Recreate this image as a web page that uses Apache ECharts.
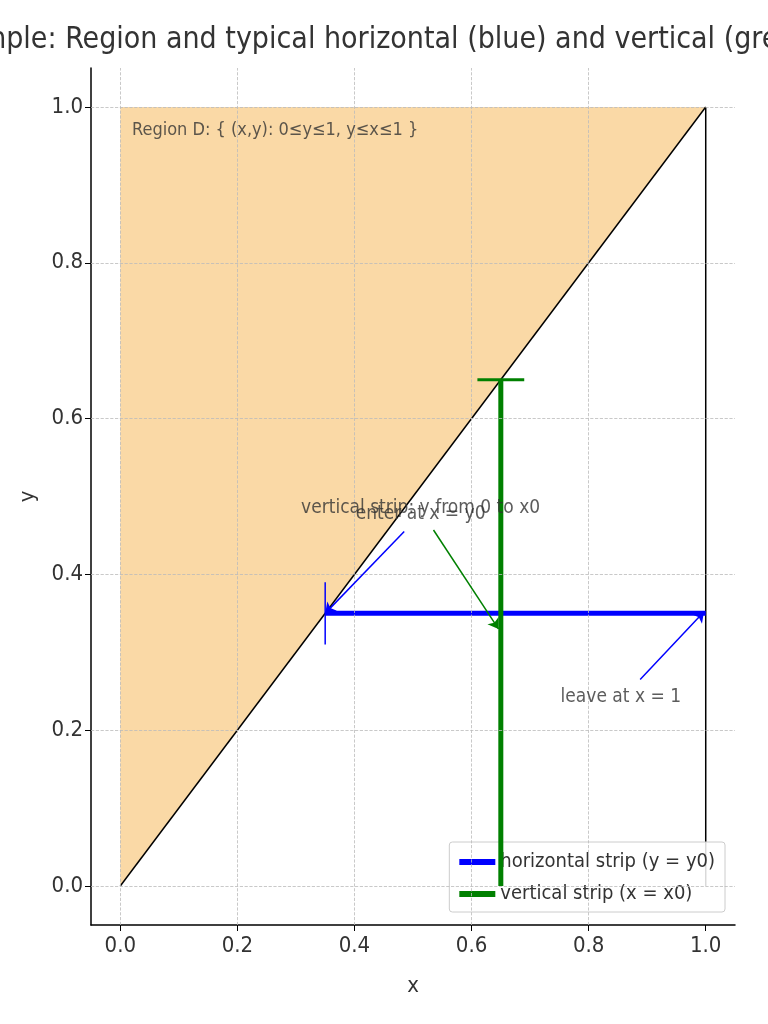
<!DOCTYPE html>
<html><head><meta charset="utf-8">
<script src="https://cdn.jsdelivr.net/npm/echarts@6/dist/echarts.min.js"></script>
<style>html,body{margin:0;padding:0;background:#fff}#main{width:768px;height:1024px}</style>
</head><body><div id="main"></div>
<script>
var ticks = [0, 0.2, 0.4, 0.6, 0.8, 1.0];
var region = [[0, 0], [0, 1], [1, 1]];
var diagonal = [[0, 0], [1, 1]];
var rightEdge = [[1, 0], [1, 1]];
var y0 = 0.35, x0 = 0.65;
var hStrip = [[0.35, y0], [1, y0]];
var hTick = [[0.35, 0.31], [0.35, 0.39]];
var vStrip = [[x0, 0], [x0, 0.65]];
var vTick = [[0.61, 0.65], [0.69, 0.65]];
var font = 'DejaVu Sans Condensed, Liberation Sans Narrow, sans-serif';

var chart = echarts.init(document.getElementById('main'));

function gridLines() {
    var d = [];
    ticks.forEach(function (t) {
        if (t !== 1.0) d.push([{ coord: [t, -0.05] }, { coord: [t, 1.05] }]);
        d.push([{ coord: [-0.05, t] }, { coord: [1.05, t] }]);
    });
    return d;
}
function arrow(from, to, color) {
    return [{ coord: from, lineStyle: { color: color, width: 1.5, type: 'solid' } }, { coord: to }];
}

var option = {
    animation: false,
    title: {
        text: 'Example: Region and typical horizontal (blue) and vertical (green) strips',
        left: 413, top: 20, textAlign: 'center',
        textStyle: { fontFamily: font, fontSize: 30, fontWeight: 'normal', color: '#333' }
    },
    grid: { left: 91, right: 33, top: 68, bottom: 99 },
    xAxis: {
        type: 'value', min: -0.05, max: 1.05, name: 'x', nameLocation: 'middle', nameGap: 50,
        nameTextStyle: { fontFamily: font, fontSize: 22, color: '#333' },
        axisLine: { onZero: false, lineStyle: { color: '#000', width: 1.5 } },
        axisTick: { customValues: ticks, length: 6, lineStyle: { color: '#000' } },
        axisLabel: { customValues: ticks, fontFamily: font, fontSize: 22, color: '#333', margin: 10,
            formatter: function (v) { return v.toFixed(1); } },
        splitLine: { show: false }
    },
    yAxis: {
        type: 'value', min: -0.05, max: 1.05, name: 'y', nameLocation: 'middle', nameGap: 52,
        nameTextStyle: { fontFamily: font, fontSize: 22, color: '#333' },
        axisLine: { show: true, onZero: false, lineStyle: { color: '#000', width: 1.5 } },
        axisTick: { show: true, customValues: ticks, length: 6, lineStyle: { color: '#000' } },
        axisLabel: { customValues: ticks, fontFamily: font, fontSize: 22, color: '#333', margin: 8,
            formatter: function (v) { return v.toFixed(1); } },
        splitLine: { show: false }
    },
    legend: {
        orient: 'vertical', right: 43, bottom: 112, padding: [10, 10, 8, 10],
        backgroundColor: 'rgba(255,255,255,0.85)', borderColor: '#ccc', borderWidth: 1, borderRadius: 3,
        itemWidth: 36, itemHeight: 6, itemGap: 12, icon: 'rect',
        textStyle: { fontFamily: font, fontSize: 20, color: '#333' },
        data: ['horizontal strip (y = y0)', 'vertical strip (x = x0)']
    },
    series: [
        {
            type: 'custom', silent: true, z: 1,
            renderItem: function (params, api) {
                var pts = region.map(function (p) { return api.coord(p); });
                return { type: 'polygon', shape: { points: pts }, style: { fill: '#FAD9A6' } };
            },
            data: [0]
        },
        {
            type: 'line', data: [], z: 2, silent: true,
            markLine: { silent: true, symbol: 'none', label: { show: false },
                lineStyle: { color: '#bbb', type: 'dashed', width: 0.8 }, data: gridLines() }
        },
        { type: 'line', data: diagonal, symbol: 'none', z: 3, lineStyle: { color: '#000', width: 1.5 } },
        { type: 'line', data: rightEdge, symbol: 'none', z: 3, lineStyle: { color: '#000', width: 1.5 } },
        { name: 'horizontal strip (y = y0)', type: 'line', data: hStrip, symbol: 'none', z: 4,
          itemStyle: { color: '#0000ff' }, lineStyle: { color: '#0000ff', width: 5 } },
        { type: 'line', data: hTick, symbol: 'none', z: 4, lineStyle: { color: '#0000ff', width: 1.5 } },
        { name: 'vertical strip (x = x0)', type: 'line', data: vStrip, symbol: 'none', z: 4,
          itemStyle: { color: '#008000' }, lineStyle: { color: '#008000', width: 5 } },
        { type: 'line', data: vTick, symbol: 'none', z: 4, lineStyle: { color: '#008000', width: 3 } },
        {
            type: 'line', data: [], z: 5,
            markLine: { silent: true, symbol: ['none', 'arrow'], symbolSize: 10, label: { show: false },
                data: [
                    arrow([0.485, 0.455], [0.35, 0.35], '#0000ff'),
                    arrow([0.535, 0.457], [0.646, 0.33], '#008000'),
                    arrow([0.888, 0.265], [0.997, 0.352], '#0000ff')
                ] }
        },
        {
            type: 'scatter', symbolSize: 0, z: 6, silent: true,
            label: { show: true, formatter: '{b}', fontFamily: font, fontSize: 19, color: '#333' },
            data: [
                { name: 'Region D: { (x,y): 0\u2264y\u22641, y\u2264x\u22641 }', value: [0.02, 0.97],
                  label: { position: 'right', distance: 0, fontSize: 18 } },
                { name: 'vertical strip: y from 0 to x0', value: [0.513, 0.485], label: { position: 'inside' } },
                { name: 'enter at x = y0', value: [0.513, 0.478], label: { position: 'inside' } },
                { name: 'leave at x = 1', value: [0.855, 0.243], label: { position: 'inside' } }
            ]
        }
    ]
};
chart.setOption(option);
</script>
</body></html>
